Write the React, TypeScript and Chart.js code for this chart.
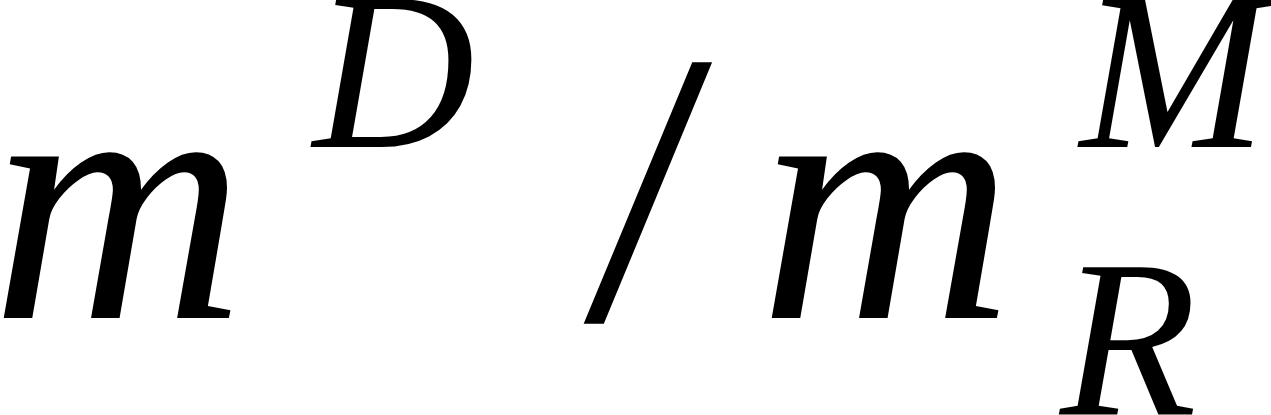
import React, { useEffect, useRef } from 'react';
import { Chart, registerables } from 'chart.js';

Chart.register(...registerables);

// formula pieces: m^D / m_R^M
const glyphs = ['m', 'D', '/', 'm', 'M', 'R'];
const glyphLeft = [2, 310, 586, 770, 1077, 1058];
const glyphBaseline = [318, 147, 318, 318, 147, 415];
const glyphLevel = ['base', 'script', 'op', 'base', 'script', 'script'];

const fontSizes = { base: 352, script: 224, op: 385 };
// the slash in the reference is steeper and heavier than Liberation's
const xStretch = { base: 1, script: 1, op: 0.8 };
const extraWeight = { base: 0, script: 0, op: 4 };
const family = '"Liberation Serif", "Times New Roman", serif';

const glyphPlugin = {
    id: 'glyphs',
    afterDatasetsDraw(chart) {
        const ctx = chart.ctx;
        const meta = chart.getDatasetMeta(0);
        ctx.save();
        ctx.fillStyle = '#000';
        ctx.strokeStyle = '#000';
        ctx.textBaseline = 'alphabetic';
        ctx.textAlign = 'left';
        meta.data.forEach((el, i) => {
            const level = glyphLevel[i];
            ctx.font = `italic ${fontSizes[level]}px ${family}`;
            const m = ctx.measureText(glyphs[i]);
            ctx.save();
            ctx.translate(el.x, el.y);
            ctx.scale(xStretch[level], 1);
            // ink's left edge sits on the point
            ctx.fillText(glyphs[i], m.actualBoundingBoxLeft, 0);
            if (extraWeight[level] > 0) {
                ctx.lineWidth = extraWeight[level];
                ctx.lineJoin = 'miter';
                ctx.strokeText(glyphs[i], m.actualBoundingBoxLeft, 0);
            }
            ctx.restore();
        });
        ctx.restore();
    }
};

export default function App() {
    const canvas = useRef(null);

    useEffect(() => {
        document.body.style.margin = '0';
        document.body.style.background = '#fff';
        const chart = new Chart(canvas.current, {
            type: 'scatter',
            data: {
                datasets: [{
                    data: glyphs.map((g, i) => ({ x: glyphLeft[i], y: glyphBaseline[i] })),
                    pointRadius: 0,
                    pointHoverRadius: 0
                }]
            },
            options: {
                animation: false,
                responsive: true,
                maintainAspectRatio: false,
                layout: { padding: 0 },
                events: [],
                scales: {
                    x: { type: 'linear', min: 0, max: 1271, display: false },
                    y: { type: 'linear', min: 0, max: 415, reverse: true, display: false }
                },
                plugins: {
                    legend: { display: false },
                    tooltip: { enabled: false }
                }
            },
            plugins: [glyphPlugin]
        });
        return () => {
            chart.destroy();
        };
    }, []);

    return (
        <div style={{ width: 1271, height: 415, position: 'relative', background: '#fff' }}>
            <canvas ref={canvas}></canvas>
        </div>
    );
}
